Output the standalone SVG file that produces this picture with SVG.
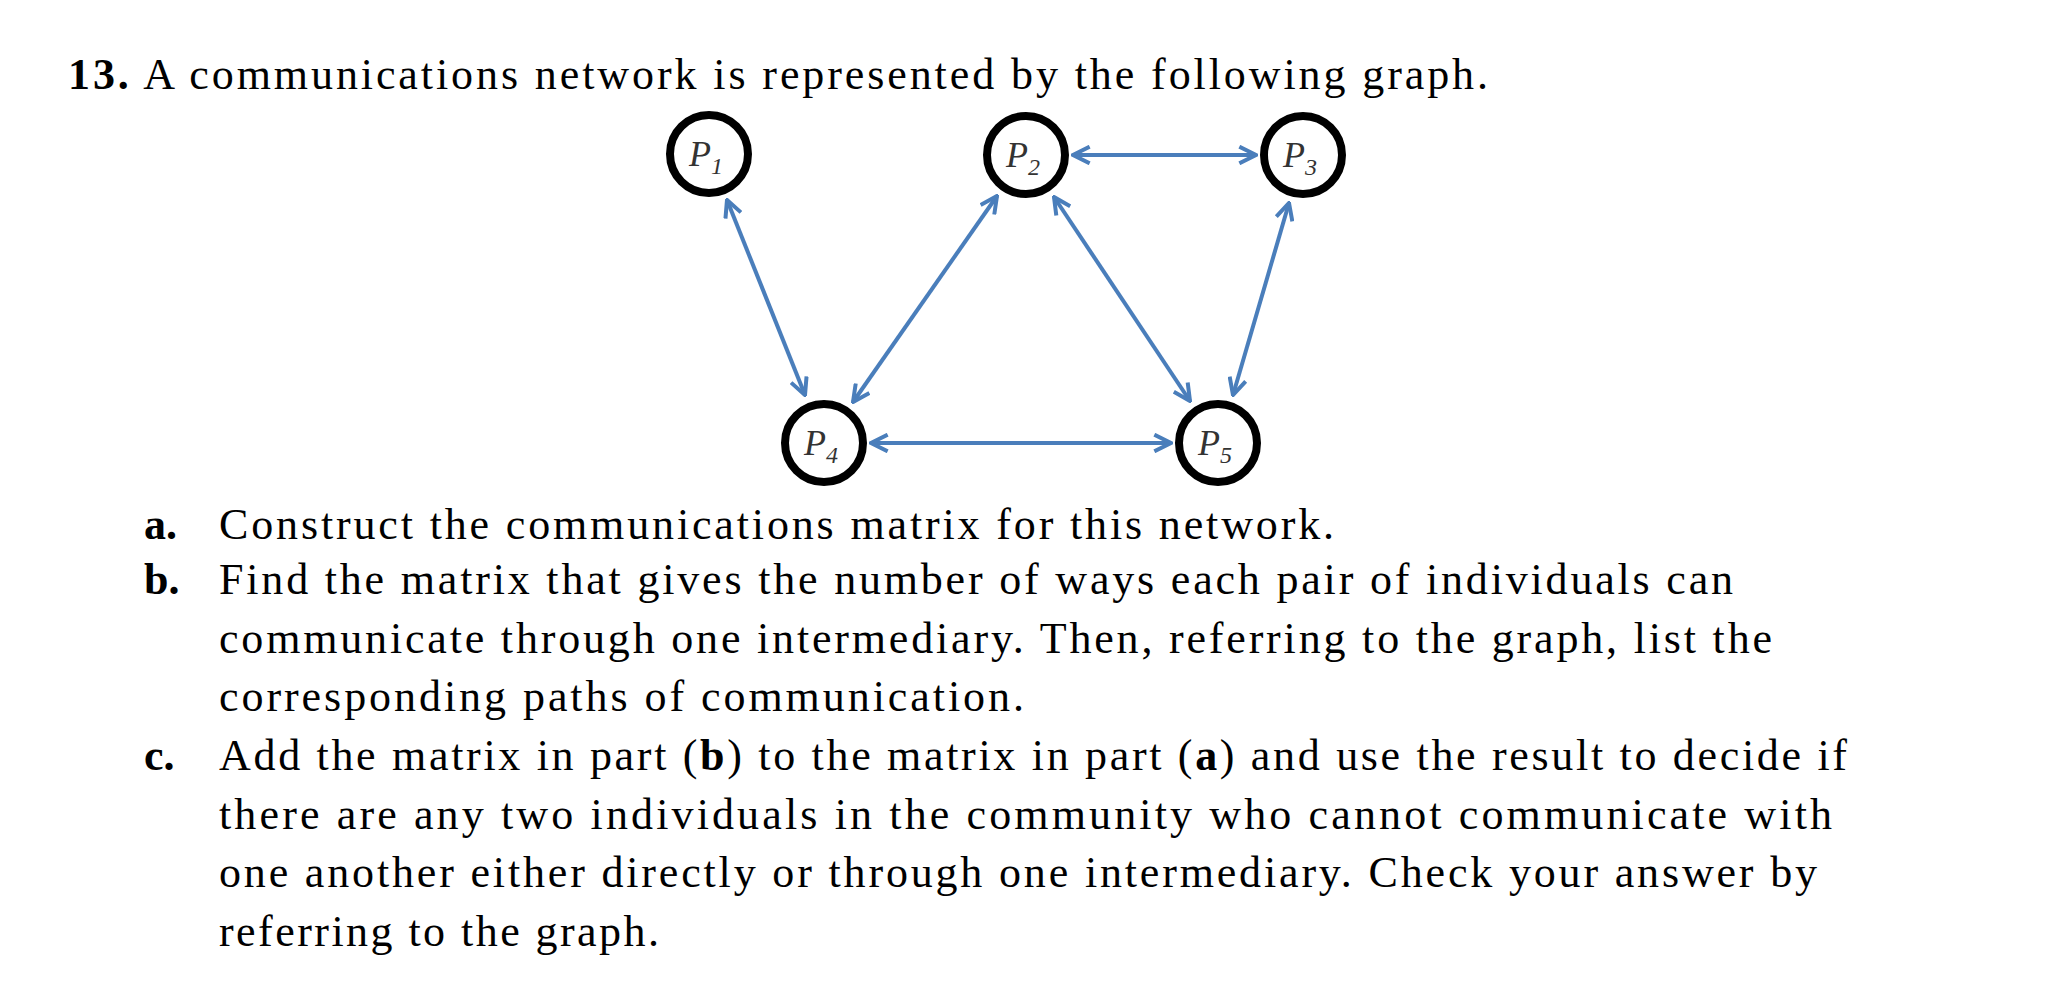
<svg xmlns="http://www.w3.org/2000/svg" width="2046" height="988" viewBox="0 0 2046 988">
<style>
.t{font-family:"Liberation Serif","Times New Roman",serif;font-size:44px;fill:#000}
.b{font-weight:bold}
.n{fill:#fff;stroke:#000;stroke-width:8}
.l{font-family:"Liberation Serif",serif;font-style:italic;font-size:36px;fill:#333}
.s{font-size:24px}
.e{stroke:#4a7ebb;stroke-width:4;fill:none;marker-start:url(#a);marker-end:url(#a)}
</style>
<defs>
<marker id="a" viewBox="0 0 12 12" refX="11" refY="6" markerWidth="5" markerHeight="5" orient="auto-start-reverse" markerUnits="strokeWidth">
<path d="M1,1 L11,6 L1,11" fill="none" stroke="#4a7ebb" stroke-width="2.4"/>
</marker>
</defs>
<rect width="2046" height="988" fill="#fff"/>
<text class="t" x="68" y="89" textLength="1420"><tspan class="b">13.</tspan> A communications network is represented by the following graph.</text>
<g id="connectors">
<line class="e" x1="727" y1="200" x2="805" y2="395"/>
<line class="e" x1="997" y1="196" x2="853" y2="402"/>
<line class="e" x1="1054" y1="197" x2="1190" y2="401"/>
<line class="e" x1="1289" y1="203" x2="1233" y2="395"/>
<line class="e" x1="1073" y1="155" x2="1256" y2="155"/>
<line class="e" x1="871" y1="443" x2="1171" y2="443"/>
</g>
<g id="P1"><circle class="n" cx="709" cy="154" r="39"/><text class="l" x="689" y="166">P<tspan class="s" dy="8">1</tspan></text></g>
<g id="P2"><circle class="n" cx="1026" cy="155" r="39"/><text class="l" x="1006" y="167">P<tspan class="s" dy="8">2</tspan></text></g>
<g id="P3"><circle class="n" cx="1303" cy="155" r="39"/><text class="l" x="1283" y="167">P<tspan class="s" dy="8">3</tspan></text></g>
<g id="P4"><circle class="n" cx="824" cy="443" r="39"/><text class="l" x="804" y="455">P<tspan class="s" dy="8">4</tspan></text></g>
<g id="P5"><circle class="n" cx="1218" cy="443" r="39"/><text class="l" x="1198" y="455">P<tspan class="s" dy="8">5</tspan></text></g>
<text class="t b" x="144" y="539">a.</text>
<text class="t" x="219" y="539" textLength="1115">Construct the communications matrix for this network.</text>
<text class="t b" x="144" y="594">b.</text>
<text class="t" x="219" y="594" textLength="1514">Find the matrix that gives the number of ways each pair of individuals can</text>
<text class="t" x="219" y="653" textLength="1553">communicate through one intermediary. Then, referring to the graph, list the</text>
<text class="t" x="219" y="711" textLength="805">corresponding paths of communication.</text>
<text class="t b" x="144" y="770">c.</text>
<text class="t" x="219" y="770" textLength="1628">Add the matrix in part (<tspan class="b">b</tspan>) to the matrix in part (<tspan class="b">a</tspan>) and use the result to decide if</text>
<text class="t" x="219" y="829" textLength="1613">there are any two  individuals in the community who cannot communicate with</text>
<text class="t" x="219" y="887" textLength="1598">one another either directly or through one intermediary. Check your answer by</text>
<text class="t" x="219" y="946" textLength="440">referring to the graph.</text>
</svg>
